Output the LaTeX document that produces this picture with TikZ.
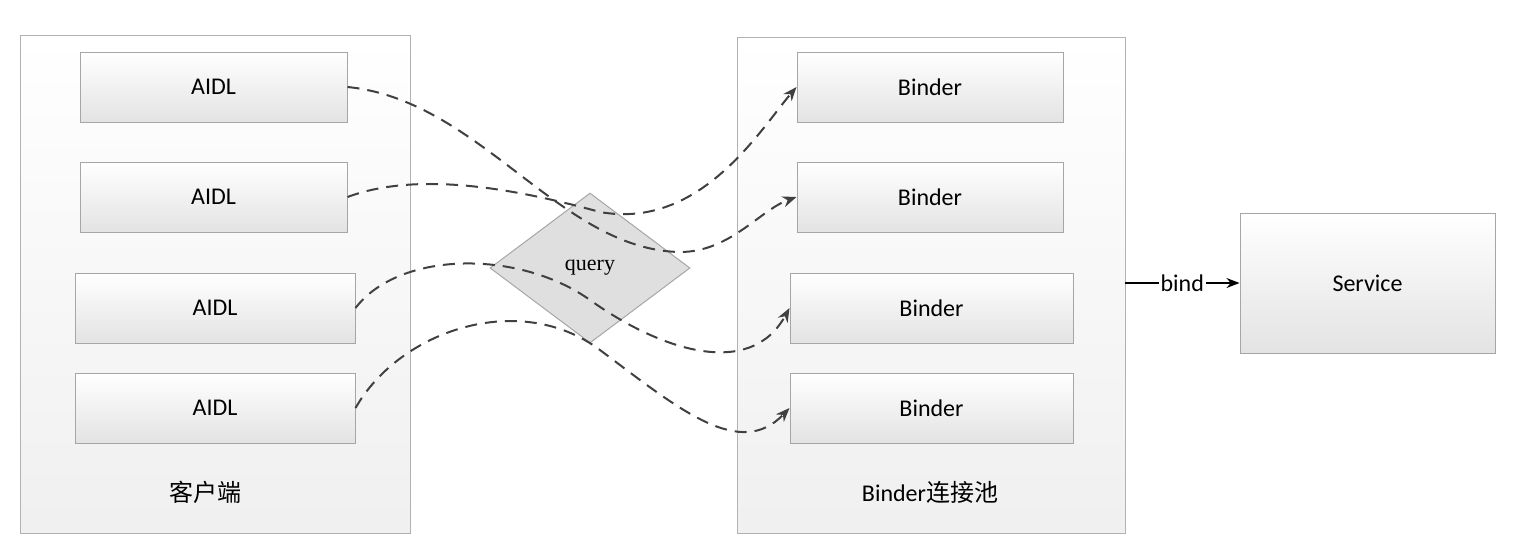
\documentclass[tikz,border=0pt]{standalone}
\usepackage{fontspec}
\setmainfont{Carlito}
\newfontfamily\cjk{Noto Sans CJK SC}
\newfontfamily\serifq{Liberation Serif}
\usetikzlibrary{arrows.meta,shapes.geometric}
\begin{document}
\begin{tikzpicture}[x=1pt,y=-1pt,
  panel/.style={draw=gray!60,line width=1pt,top color=white,bottom color=gray!12},
  box/.style={draw=gray!70,line width=1pt,top color=white,bottom color=gray!22,font=\fontsize{24}{28}\selectfont},
  conn/.style={dashed,dash pattern=on 12pt off 8pt,line width=2pt,draw=black!75,-{Stealth[length=14pt,width=11pt]}},
  lbl/.style={font=\fontsize{24}{28}\selectfont}]
\useasboundingbox (0,0) rectangle (1522,558);
\path[panel] (20,35) rectangle (410,533);
\node[lbl] (cl) at (205,492) {\cjk 客户端};
\path[panel] (737,37) rectangle (1125,533);
\node[lbl] (bl) at (930,492) {Binder{\cjk 连接池}};
\node[box,minimum width=267,minimum height=70] (a1) at (213.5,87) {AIDL};
\node[box,minimum width=267,minimum height=70] (a2) at (213.5,197) {AIDL};
\node[box,minimum width=280,minimum height=70] (a3) at (215,308) {AIDL};
\node[box,minimum width=280,minimum height=70] (a4) at (215,408) {AIDL};
\node[box,minimum width=266,minimum height=70] (b1) at (930,87) {Binder};
\node[box,minimum width=266,minimum height=70] (b2) at (930,197) {Binder};
\node[box,minimum width=283,minimum height=70] (b3) at (931.5,308) {Binder};
\node[box,minimum width=283,minimum height=70] (b4) at (931.5,408) {Binder};
\node[box,minimum width=255,minimum height=140] (sv) at (1367.5,283) {Service};
\node[diamond,draw=gray!70,line width=1pt,fill=gray!25,minimum width=200,minimum height=150,inner sep=0,
  font=\serifq\fontsize{22}{26}\selectfont] (q) at (590,268) {query};
\coordinate (bp) at (1125,283);
\draw[line width=1.5pt,-{Stealth[length=13pt,width=10pt]}] (bp) -- node[fill=white,inner sep=2pt,font=\fontsize{24}{28}\selectfont]{bind} (sv.west);
\draw[conn] (a1.east) .. controls (480,100) and (560,250) .. (680,252) .. controls (730,252) and (760,210) .. (b2.west);
\draw[conn] (a2.east) .. controls (420,170) and (520,190) .. (600,212) .. controls (700,230) and (760,130) .. (b1.west);
\draw[conn] (a3.east) .. controls (400,250) and (520,250) .. (590,300) .. controls (660,350) and (750,380) .. (b3.west);
\draw[conn] (a4.east) .. controls (400,330) and (520,290) .. (600,350) .. controls (680,410) and (740,460) .. (b4.west);
\end{tikzpicture}
\end{document}
